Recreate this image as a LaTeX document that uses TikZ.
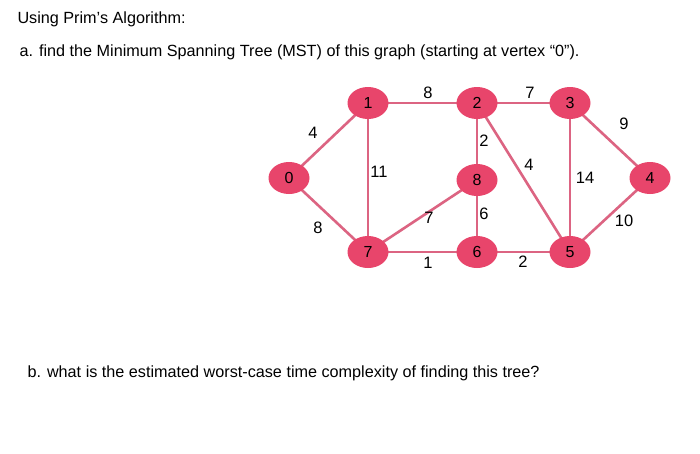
\documentclass[tikz,border=0pt]{standalone}
\usepackage{fontspec}
\setmainfont{Liberation Sans}
\usetikzlibrary{shapes.geometric}
\begin{document}
\begin{tikzpicture}[x=1pt,y=-1pt,
  vtx/.style={ellipse,fill=vred,minimum width=41pt,minimum height=32pt,inner sep=0pt,font=\fontsize{16}{16}\selectfont},
  edge/.style={draw=ered,line width=2.6pt},
  wt/.style={font=\fontsize{16.5}{16}\selectfont},
  txt/.style={anchor=west,font=\fontsize{16.2}{18}\selectfont}]
\definecolor{vred}{HTML}{E8456B}
\definecolor{ered}{HTML}{DC6482}
\useasboundingbox (0,0) rectangle (700,453);
\fill[white] (0,0) rectangle (700,453);
\node[txt] (t1) at (14,19) {Using Prim's Algorithm:};
\node[txt] (t2) at (16,52) {a. find the Minimum Spanning Tree (MST) of this graph (starting at vertex “0”).};
\node[txt] (t3) at (24,373) {b. what is the estimated worst-case time complexity of finding this tree?};
\coordinate (c0) at (289,178);
\coordinate (c1) at (368,103);
\coordinate (c2) at (477,103);
\coordinate (c3) at (570,103);
\coordinate (c4) at (650,178);
\coordinate (c8) at (477,180);
\coordinate (c7) at (368,252);
\coordinate (c6) at (477,252);
\coordinate (c5) at (570,252);
\draw[edge] (c0) -- (c1);
\draw[edge] (c0) -- (c7);
\draw[edge] (c1) -- (c2);
\draw[edge] (c1) -- (c7);
\draw[edge] (c2) -- (c3);
\draw[edge] (c2) -- (c8);
\draw[edge] (c2) -- (c5);
\draw[edge] (c3) -- (c5);
\draw[edge] (c3) -- (c4);
\draw[edge] (c5) -- (c4);
\draw[edge] (c8) -- (c7);
\draw[edge] (c8) -- (c6);
\draw[edge] (c7) -- (c6);
\draw[edge] (c6) -- (c5);
\node[vtx] (v0) at (c0) {0};
\node[vtx] (v1) at (c1) {1};
\node[vtx] (v2) at (c2) {2};
\node[vtx] (v3) at (c3) {3};
\node[vtx] (v4) at (c4) {4};
\node[vtx] (v8) at (c8) {8};
\node[vtx] (v7) at (c7) {7};
\node[vtx] (v6) at (c6) {6};
\node[vtx] (v5) at (c5) {5};
\node[wt] (w01) at (313,133) {4};
\node[wt] (w07) at (318,228) {8};
\node[wt] (w12) at (428,93) {8};
\node[wt] (w23) at (530,93) {7};
\node[wt] (w17) at (379,172) {11};
\node[wt] (w28) at (484,141) {2};
\node[wt] (w25) at (529,165) {4};
\node[wt] (w35) at (585,178) {14};
\node[wt] (w34) at (624,124) {9};
\node[wt] (w54) at (624,221) {10};
\node[wt] (w87) at (429,218) {7};
\node[wt] (w86) at (484,214) {6};
\node[wt] (w76) at (428,263) {1};
\node[wt] (w65) at (523,262) {2};
\end{tikzpicture}
\end{document}
